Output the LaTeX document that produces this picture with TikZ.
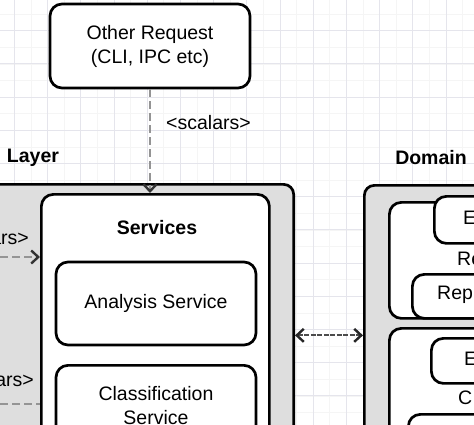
\documentclass[tikz,border=0pt]{standalone}
\usepackage{fontspec}
\setmainfont{Liberation Sans}
\usetikzlibrary{arrows.meta}

\begin{document}
\begin{tikzpicture}[x=1pt,y=-1pt,
  font=\fontsize{19.5}{24}\selectfont,
  box/.style={rectangle,draw,line width=2.7pt,rounded corners=12pt,fill=white,align=center},
  panel/.style={rectangle,draw,line width=2.7pt,rounded corners=10pt,fill=black!13},
  txt/.style={inner sep=0pt},
  flow/.style={draw=black!42,line width=2.4pt,dash pattern=on 8pt off 4pt},
  barb/.style={-{Straight Barb[length=7pt,width=13pt,line width=2.4pt,color=black!80]}},
  link/.style={draw=black!70,line width=2.2pt,dash pattern=on 5pt off 1.5pt,
    {Straight Barb[length=7pt,width=13pt,line width=2.4pt,color=black!85]}-{Straight Barb[length=7pt,width=13pt,line width=2.4pt,color=black!85]}}]
\useasboundingbox (0,0) rectangle (474,424);
\clip (0,0) rectangle (474,424);
\fill[white] (0,0) rectangle (474,424);
% background grid
\draw[draw=black!4,line width=0.8pt,xshift=14.4pt,yshift=2.5pt] (-60,-60) grid[step=16.6pt] (540,480);
\draw[draw=blue!25!black!10,line width=1pt,xshift=14.4pt,yshift=2.5pt] (-60,-60) grid[step=33.2pt] (540,480);

\node[box,minimum width=200,minimum height=84] (req) at (150,46) {Other Request\\(CLI, IPC etc)};
\node[txt,anchor=west] (scal) at (166,123) {<scalars>};

\node[txt,font=\fontsize{19.5}{24}\selectfont\bfseries] (lay) at (33,158) {Layer};
\node[txt,font=\fontsize{19.5}{24}\selectfont\bfseries] (dom) at (431,158) {Domain};

% left side
\node[panel,anchor=north east,minimum width=340,minimum height=302] (apppanel) at (295,183) {};
\node[box,anchor=north west,minimum width=228,minimum height=320] (svc) at (40,193) {};
\node[txt,font=\fontsize{19.5}{24}\selectfont\bfseries] (svct) at (157,228) {Services};
\node[box,minimum width=200,minimum height=83] (ana) at (156,303.5) {Analysis Service};
\node[box,anchor=north,minimum width=200,minimum height=80] (cls) at (156,364) {Classification\\Service};

\node[txt,anchor=east] (scala) at (29,238) {<scalars>};
\node[txt,anchor=east] (scalb) at (34,380) {<scalars>};
\coordinate (ina) at (0,257);
\coordinate (inb) at (0,404);
\draw[flow,barb] (ina) -- (ina -| svc.west);
\draw[flow] (inb) -- (inb -| svc.west);

% right side
\node[panel,anchor=north west,minimum width=200,minimum height=300] (dompanel) at (363,184) {};
\node[box,anchor=north west,minimum width=150,minimum height=116] (repgrp) at (388,201) {};
\node[box,anchor=north west,minimum width=100,minimum height=47] (ent) at (433,195) {};
\node[txt,anchor=west] (entt) at (463,218) {E};
\node[txt,anchor=west] (rept) at (457,259) {Re};
\node[box,anchor=north west,minimum width=100,minimum height=44] (repo) at (411,273) {};
\node[txt,anchor=west] (repot) at (437,295) {Rep};
\node[box,anchor=north west,minimum width=150,minimum height=200] (ctxgrp) at (388,327) {};
\node[box,anchor=north west,minimum width=100,minimum height=45] (entb) at (430,337) {};
\node[txt,anchor=west] (entbt) at (464,359) {E};
\node[txt,anchor=west] (ctxt) at (458,398) {C};
\node[box,anchor=north west,minimum width=120,minimum height=60] (clsb) at (407,413) {};

\draw[flow,barb] (req.south) -- (req.south |- svc.north);
\draw[link] (apppanel.east) -- (dompanel.west);
\end{tikzpicture}
\end{document}
